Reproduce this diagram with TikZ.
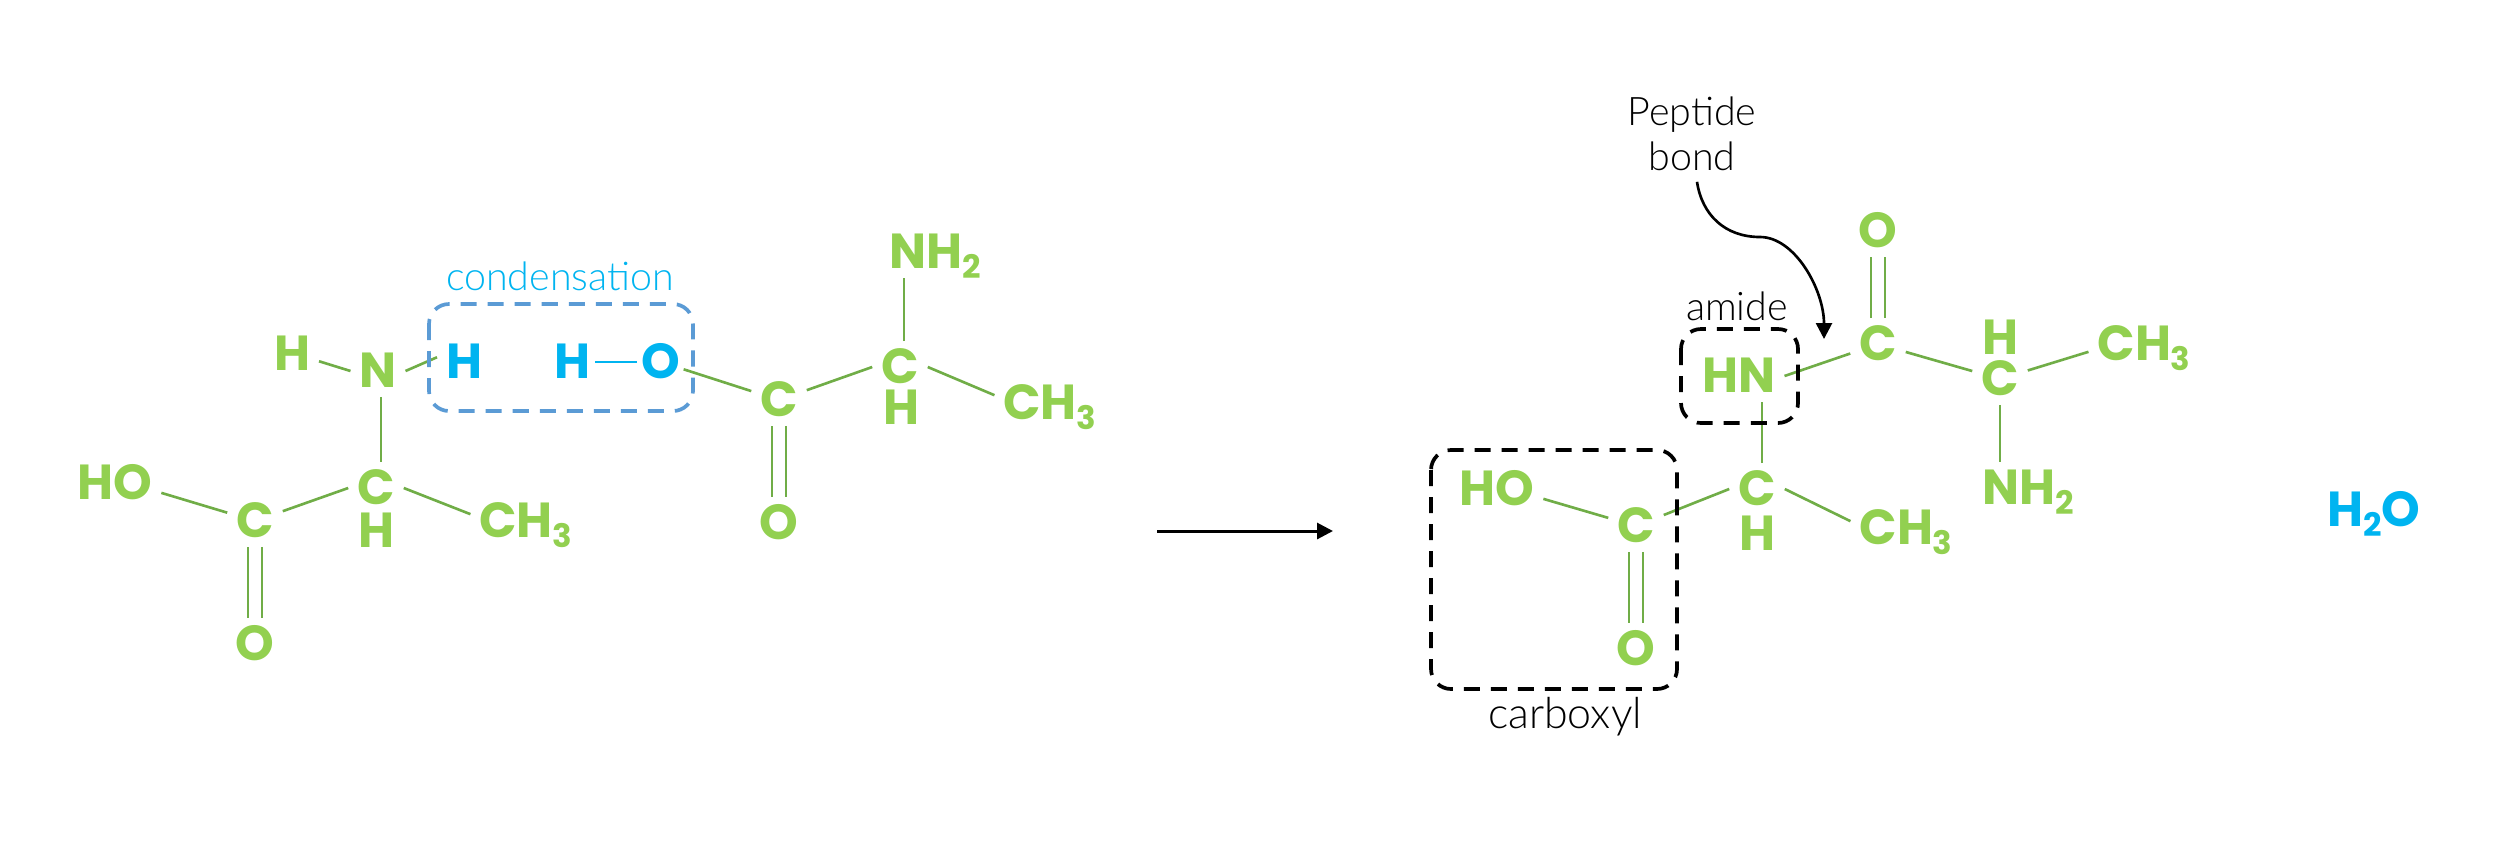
\documentclass[tikz,border=0pt]{standalone}
\usepackage{fontspec}
\setmainfont{Poppins}
\newfontfamily\thinfont{Lato Light}
\usetikzlibrary{positioning}
\usetikzlibrary{arrows.meta}
\definecolor{atomgreen}{HTML}{92D050}
\definecolor{bondgreen}{HTML}{70AD47}
\definecolor{waterblue}{HTML}{00B4F0}
\definecolor{boxblue}{HTML}{5B9BD5}
\newcommand{\lowr}[1]{\raisebox{-.37ex}{\fontsize{9.2}{10}\selectfont #1}}
\tikzset{
atom/.style={text=atomgreen,font=\fontsize{14}{16}\selectfont\bfseries,inner sep=0pt,outer sep=.09cm,text height=.335cm,text depth=0pt},
wateratom/.style={atom,text=waterblue},
bond/.style={draw=bondgreen,line width=.75pt},
dblbond/.style={bond,double,double distance=.115cm,line width=.7pt},
note/.style={font=\fontsize{11.2}{12.9}\selectfont\thinfont,inner sep=0pt},
dashbox/.style={line width=1.05pt,rounded corners=.2cm,dash pattern=on .16cm off .11cm},
tiparrow/.style={-{Triangle[length=.16cm,width=.16cm]},line width=.85pt}
}
\begin{document}
\begin{tikzpicture}[x=.01cm,y=-.01cm]
\useasboundingbox (0,0) rectangle (2500,857);
% left molecule
\node[atom] (hl) at (292,354) {H};
\node[atom] (nl) at (378,371) {N};
\node[wateratom] (hc) at (464,362) {H};
\node[wateratom] (hd) at (572,362) {H};
\node[wateratom] (od) at (661,362) {O};
\node[atom] (hoa) at (115,483) {HO};
\node[atom] (ca) at (255,521) {C};
\node[atom] (oa) at (255,644) {O};
\node[atom] (cb) at (376,488) {C};
\node[atom] (hb) at (376,531) {H};
\node[atom] (mea) at (526,521) {CH\lowr{3}};
\node[atom] (cc) at (779,400) {C};
\node[atom] (oc) at (779,523) {O};
\node[atom] (ce) at (900,367) {C};
\node[atom] (he) at (901,408) {H};
\node[atom] (nha) at (935,252) {NH\lowr{2}};
\node[atom] (meb) at (1050,403) {CH\lowr{3}};
\draw[bond] (hl.-15) -- (nl.west);
\draw[bond] (nl.east) -- (hc.170);
\draw[bond] ([xshift=.03cm]nl.south) -- ([xshift=.03cm]nl.south |- cb.north);
\draw[bond,draw=waterblue,shorten <=-.04cm,shorten >=-.04cm] (hd) -- (od);
\draw[bond] (hoa.-12) -- (ca);
\draw[dblbond] (ca) -- (oa);
\draw[bond] (ca) -- (cb.west);
\draw[bond] (cb.east) -- (mea.173);
\draw[bond,shorten <=-.06cm] (od) -- (cc);
\draw[dblbond] (cc) -- (oc);
\draw[bond] (cc) -- (ce.west);
\draw[bond] (ce.east) -- (meb.172);
\draw[bond] ([xshift=.04cm]ce.north) -- ([xshift=.04cm]ce.north |- nha.south);
\draw[dashbox,boxblue] (429,304) rectangle (693,411);
\node[note,text=waterblue] (cond) at (560,276) {condensation};
% arrow
\coordinate (arrstart) at (1157,531);
\coordinate (arrend) at (1333,531);
\draw[tiparrow] (arrstart) -- (arrend);
% right molecule
\node[atom] (hof) at (1497,489) {HO};
\node[atom] (cf) at (1636,526) {C};
\node[atom] (of) at (1636,649) {O};
\node[atom] (cg) at (1757,489) {C};
\node[atom] (hg) at (1757,534) {H};
\node[atom] (mec) at (1906,528) {CH\lowr{3}};
\node[atom] (hn) at (1739,376) {HN};
\node[atom] (ch) at (1878,344) {C};
\node[atom] (oh) at (1878,231) {O};
\node[atom] (ci) at (2000,379) {C};
\node[atom] (hi) at (2000,338) {H};
\node[atom] (med) at (2144,344) {CH\lowr{3}};
\node[atom] (nhb) at (2028,488) {NH\lowr{2}};
\draw[bond] (hof.-12) -- (cf);
\draw[dblbond] (cf) -- (of);
\draw[bond] (cf) -- (cg.west);
\draw[bond] (cg.east) -- (mec.173);
\draw[bond] ([xshift=.05cm]cg.north) -- ([xshift=.05cm]cg.north |- hn.south);
\draw[bond] (hn.east) -- (ch);
\draw[dblbond] (ch) -- (oh);
\draw[bond] (ch) -- (ci);
\draw[bond] (ci) -- (med.188);
\draw[bond] (ci) -- (ci |- nhb.north);
\draw[dashbox] (1681,329) rectangle (1798,423);
\draw[dashbox] (1431,450) rectangle (1677,689);
\node[note] (amide) at (1737,306) {amide};
\node[note,font=\fontsize{12.2}{14}\selectfont\thinfont] (carboxyl) at (1565,717) {carboxyl};
\node[note,align=center] (pep) at (1692,134) {Peptide\\bond};
\coordinate (pepmid) at (1760,237);
\coordinate (pepend) at (1824,339);
\draw[tiparrow,line width=.75pt] ([xshift=.05cm,yshift=-.1cm]pep.south) .. controls (1702,215) and (1725,237) .. (pepmid) .. controls (1795,237) and (1824,290) .. (pepend);
% water
\node[wateratom] (water) at (2374,510) {H\lowr{2}O};
\end{tikzpicture}
\end{document}
